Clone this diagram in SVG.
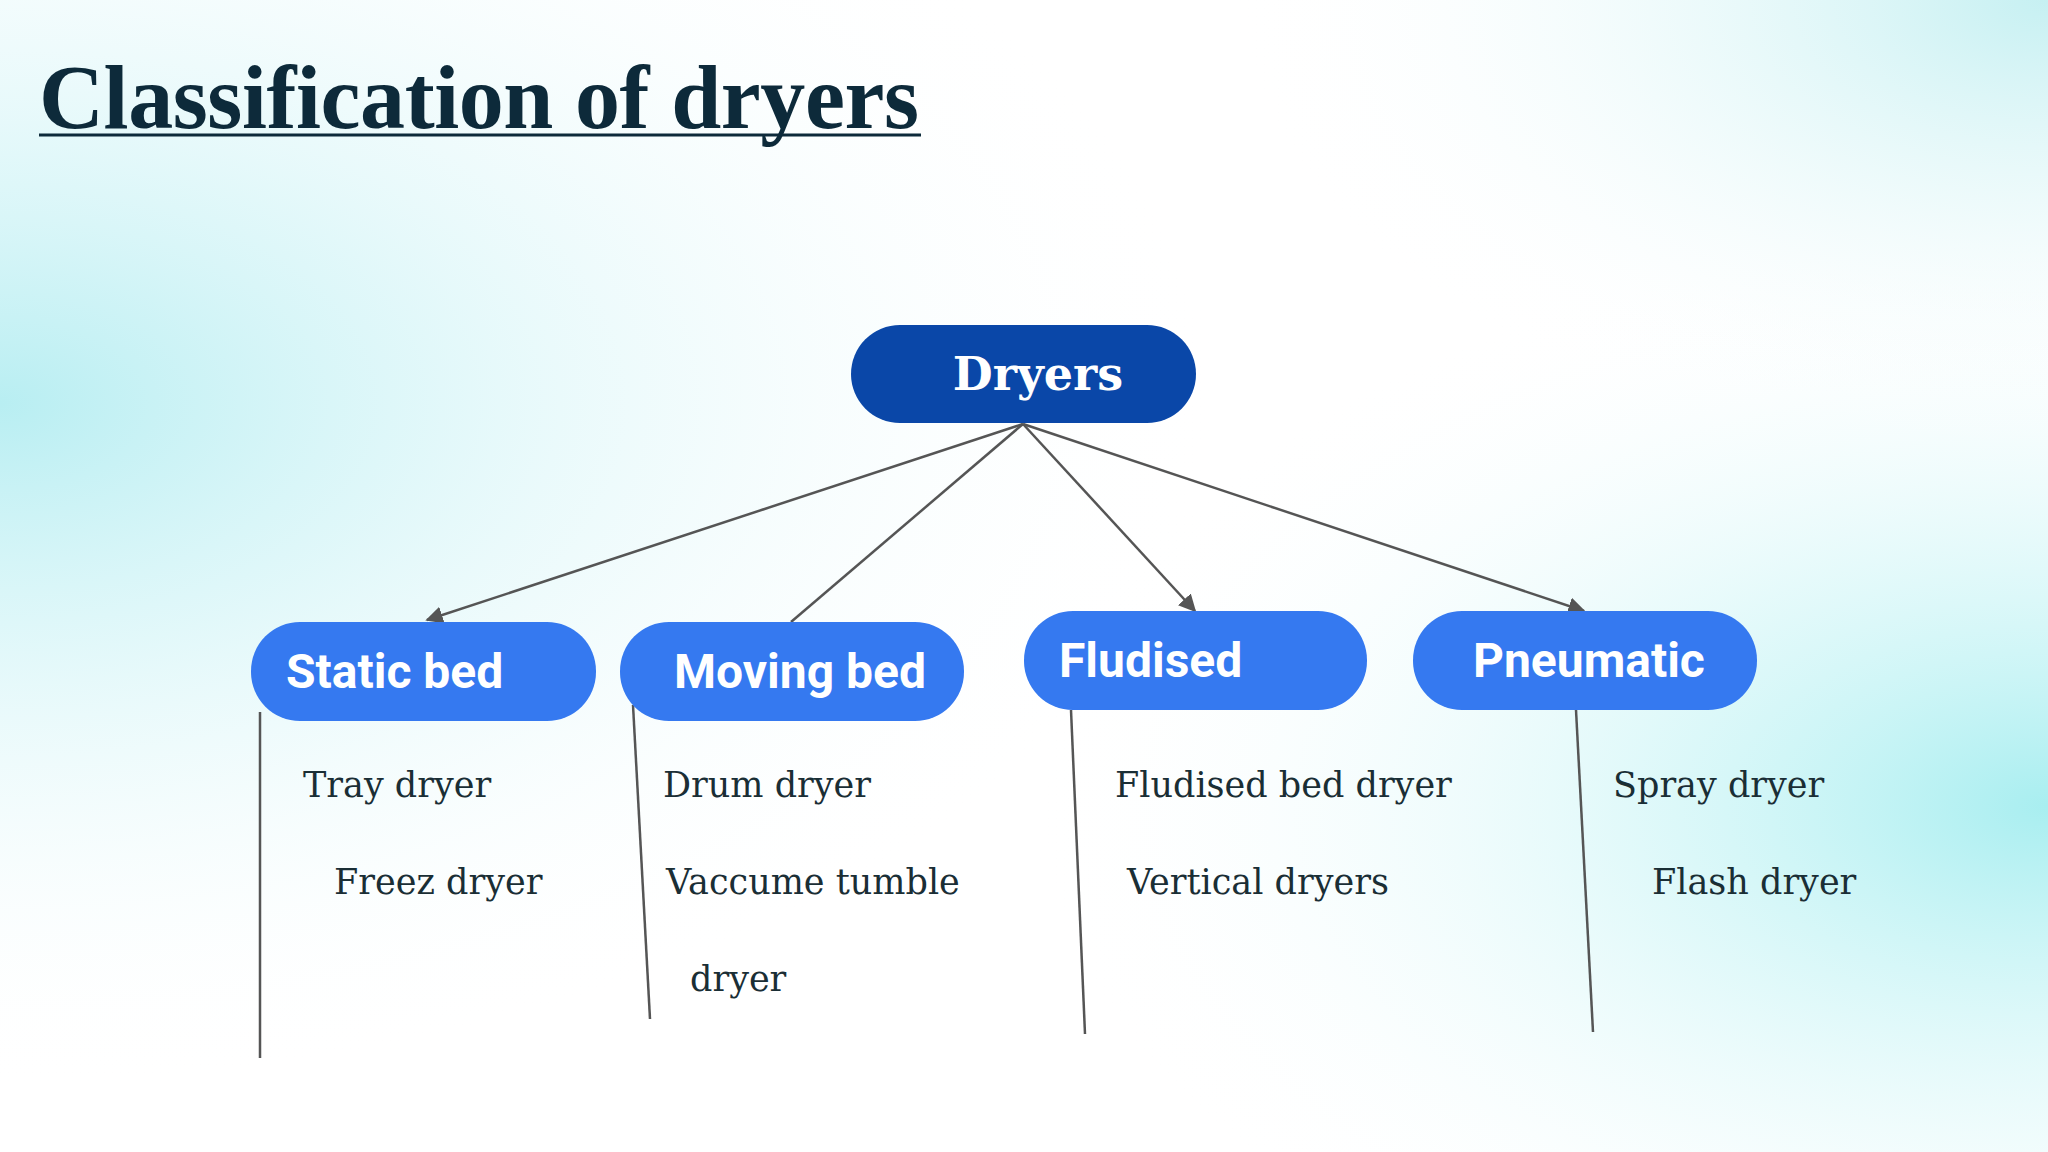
<svg xmlns="http://www.w3.org/2000/svg" width="2048" height="1152" viewBox="0 0 2048 1152">
<defs>
<radialGradient id="gl" cx="0" cy="0.35" r="0.6"><stop offset="0" stop-color="#b8eef2"/><stop offset="1" stop-color="#ffffff" stop-opacity="0"/></radialGradient>
<radialGradient id="gr" cx="1" cy="0.7" r="0.5"><stop offset="0" stop-color="#a8eef0"/><stop offset="1" stop-color="#ffffff" stop-opacity="0"/></radialGradient>
<radialGradient id="gt" cx="1" cy="0" r="0.4"><stop offset="0" stop-color="#c6f0f2"/><stop offset="1" stop-color="#ffffff" stop-opacity="0"/></radialGradient>
<marker id="ah" viewBox="0 0 10 10" refX="9" refY="5" markerWidth="7" markerHeight="7" orient="auto"><path d="M0,0 L10,5 L0,10 z" fill="#555"/></marker>
<style>
.sub{fill:#3579f0}
.lbl{font-family:Roboto,"Liberation Sans",sans-serif;font-weight:bold;font-size:48px;fill:#fff}
.it{font-family:"DejaVu Serif","Liberation Serif",serif;font-size:35px;fill:#1a2e35}
.c{stroke:#555;stroke-width:2.5;fill:none}
</style>
</defs>
<rect width="2048" height="1152" fill="#fff"/>
<rect width="2048" height="1152" fill="url(#gl)"/>
<rect width="2048" height="1152" fill="url(#gr)"/>
<rect width="2048" height="1152" fill="url(#gt)"/>
<g id="title">
<text x="39" y="128" font-family="'Liberation Serif',serif" font-weight="bold" font-size="90" fill="#0d2a3a" textLength="880">Classification of dryers</text>
<line x1="39" y1="135" x2="921" y2="135" stroke="#0d2a3a" stroke-width="3"/>
</g>
<g id="connectors">
<line class="c" x1="1023" y1="424" x2="427" y2="620" marker-end="url(#ah)"/>
<line class="c" x1="1023" y1="424" x2="791" y2="622"/>
<line class="c" x1="1023" y1="424" x2="1195" y2="611" marker-end="url(#ah)"/>
<line class="c" x1="1023" y1="424" x2="1584" y2="611" marker-end="url(#ah)"/>
<line class="c" x1="260" y1="712" x2="260" y2="1058"/>
<line class="c" x1="633" y1="705" x2="650" y2="1019"/>
<line class="c" x1="1071" y1="710" x2="1085" y2="1034"/>
<line class="c" x1="1576" y1="710" x2="1593" y2="1032"/>
</g>
<g id="dryers">
<rect x="851" y="325" width="345" height="98" rx="49" fill="#0a47a8"/>
<text x="1038" y="390" text-anchor="middle" font-family="'DejaVu Serif','Liberation Serif',serif" font-weight="bold" font-size="46" fill="#fff">Dryers</text>
</g>
<g id="static"><rect class="sub" x="251" y="622" width="345" height="99" rx="49"/><text class="lbl" x="286" y="688">Static bed</text></g>
<g id="moving"><rect class="sub" x="620" y="622" width="344" height="99" rx="49"/><text class="lbl" x="674" y="688">Moving bed</text></g>
<g id="fludised"><rect class="sub" x="1024" y="611" width="343" height="99" rx="49"/><text class="lbl" x="1059" y="677">Fludised</text></g>
<g id="pneumatic"><rect class="sub" x="1413" y="611" width="344" height="99" rx="49"/><text class="lbl" x="1473" y="677">Pneumatic</text></g>
<g id="items">
<text class="it" x="303" y="797">Tray dryer</text>
<text class="it" x="334" y="894">Freez dryer</text>
<text class="it" x="663" y="797">Drum dryer</text>
<text class="it" x="666" y="894">Vaccume tumble</text>
<text class="it" x="690" y="991">dryer</text>
<text class="it" x="1115" y="797">Fludised bed dryer</text>
<text class="it" x="1127" y="894">Vertical dryers</text>
<text class="it" x="1613" y="797">Spray dryer</text>
<text class="it" x="1652" y="894">Flash dryer</text>
</g>
</svg>
